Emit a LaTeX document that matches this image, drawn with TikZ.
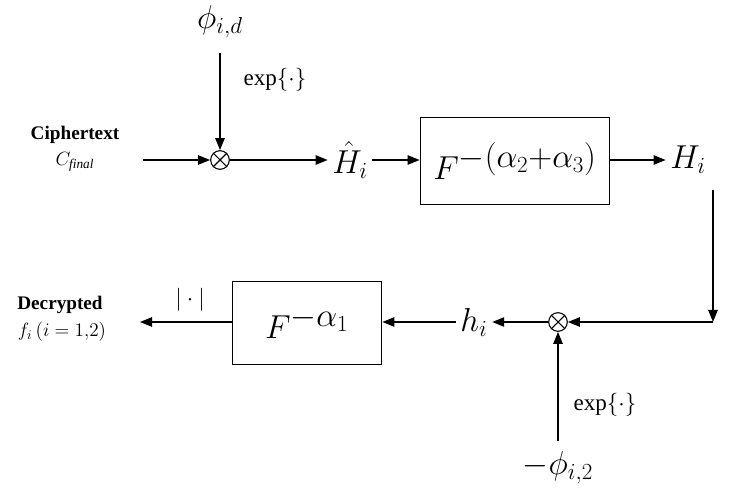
\documentclass[tikz,border=0pt]{standalone}
\usepackage{amsmath}
\usepackage{fontspec}
\setmainfont{Liberation Serif}
\usetikzlibrary{positioning, arrows.meta}

\begin{document}
\begin{tikzpicture}[x=0.75pt, y=-0.75pt,
  blk/.style={rectangle, draw, line width=1pt, inner sep=0pt},
  mult/.style={circle, draw, line width=0.8pt, minimum size=14pt, inner sep=0pt},
  arr/.style={-{Triangle[length=9pt, width=7pt]}, line width=1.2pt},
  lbl/.style={font=\fontsize{24}{28}\selectfont}
]
\useasboundingbox (0,0) rectangle (743,495);

% upper path
\node[font=\Large\bfseries] (ct) at (75,135) {Ciphertext};
\node[font=\Large] (cf) at (75,162) {$C_{\mathit{final}}$};
\coordinate (cin) at (143,160);
\node[mult] (m1) at (220,160) {};
\draw[line width=0.8pt] (m1.north west) -- (m1.south east) (m1.north east) -- (m1.south west);
\node[lbl] (phid) at (220,22) {$\phi_{i,d}$};
\node[font=\LARGE] (e1) at (275,80) {$\exp\{\cdot\}$};
\node[lbl] (Hh) at (350,160) {$\hat{H}_i$};
\node[blk, minimum width=142pt, minimum height=65pt] (F23) at (515,161) {\fontsize{34}{40}\selectfont $F^{-(\alpha_2+\alpha_3)}$};
\node[lbl] (H) at (688,160) {$H_i$};
\coordinate (cor) at (713,322);

\draw[arr] (cin) -- (m1);
\draw[arr] (phid.south) ++(0,10) coordinate (pd) (pd) -- (m1);
\draw[arr] (m1) -- (Hh.west |- m1);
\draw[arr] (Hh.east |- m1) -- (F23.west |- m1);
\draw[arr] (F23.east |- m1) -- (H.west |- m1);
\draw[arr] (713,190) -- (cor);

% lower path
\node[mult] (m2) at (558,322) {};
\draw[line width=0.8pt] (m2.north west) -- (m2.south east) (m2.north east) -- (m2.south west);
\node[lbl] (phi2) at (558,468) {$-\phi_{i,2}$};
\node[font=\LARGE] (e2) at (605,405) {$\exp\{\cdot\}$};
\node[lbl] (h) at (474,322) {$h_i$};
\node[blk, minimum width=112pt, minimum height=62pt] (F1) at (307,323) {\fontsize{34}{40}\selectfont $F^{-\alpha_1}$};
\node[font=\LARGE] (ab) at (190,300) {$|\cdot|$};
\node[font=\Large\bfseries] (dec) at (60,305) {Decrypted};
\node[font=\Large] (fi) at (62,332) {$f_i\,(i=1{,}2)$};
\coordinate (cout) at (140,322);

\draw[arr] (cor) -- (m2);
\draw[arr] (phi2.north) ++(0,-6) coordinate (p2) (p2) -- (m2);
\draw[arr] (m2) -- (h.east |- m2);
\draw[arr] (h.west |- m2) -- (F1.east |- m2);
\draw[arr] (F1.west |- m2) -- (cout);
\end{tikzpicture}
\end{document}
